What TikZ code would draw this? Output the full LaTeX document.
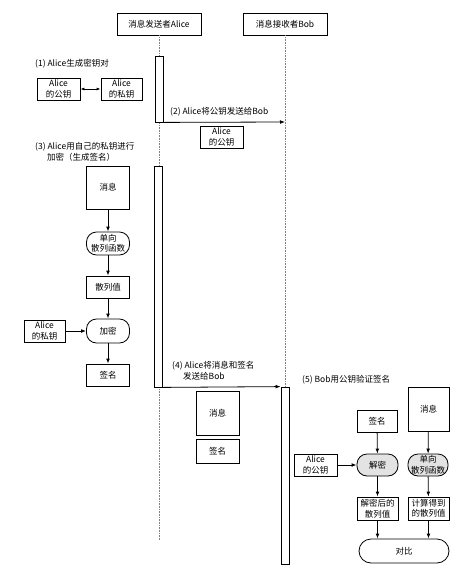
\documentclass[tikz,border=0pt]{standalone}
\usepackage{fontspec}
\setmainfont{Noto Sans CJK SC}
\usetikzlibrary{positioning, arrows.meta}
\tikzset{
  block/.style={
    draw,
    rectangle,
    line width=0.8pt,
    minimum width=43pt,
    minimum height=22pt,
    inner sep=1pt,
    align=center,
    font=\fontsize{8.5}{10.5}\selectfont
  },
  func/.style={block, rounded corners=10pt},
  shaded/.style={fill=gray!22},
  actbar/.style={draw, line width=0.8pt, fill=white, minimum width=8pt, inner sep=0pt},
  life/.style={densely dotted, gray, line width=0.6pt},
  msg/.style={-{Latex[length=5pt]}, line width=0.8pt},
  note/.style={anchor=west, align=left, inner sep=0pt, font=\fontsize{8.5}{11}\selectfont}
}
\begin{document}
\begin{tikzpicture}[x=1pt, y=-1pt]
    \useasboundingbox (0,0) rectangle (474,571);
    % lifelines
    \node[block, minimum width=84pt] (alice) at (159,24) {消息发送者Alice};
    \node[block, minimum width=84pt] (bob) at (285,24) {消息接收者Bob};
    \coordinate (aend) at (159,540);
    \coordinate (bend) at (285,387);
    \draw[life] (alice) -- (aend);
    \draw[life] (bob) -- (bend);
    \node[actbar, minimum height=66pt] (act1) at (159,89) {};
    \node[actbar, minimum height=221pt] (act2) at (158.5,276.5) {};
    \node[actbar, minimum height=177pt] (act3) at (285,475.5) {};

    % (1) key pair
    \node[note] (n1) at (35,64) {(1) Alice生成密钥对};
    \node[block] (pub1) at (58.5,89) {Alice\\的公钥};
    \node[block, minimum width=41pt] (priv1) at (121.5,89) {Alice\\的私钥};
    \draw[{Latex[length=4pt]}-{Latex[length=4pt]}, line width=0.8pt] (pub1) -- (priv1);

    % (2) send public key
    \coordinate (b2) at (285,122);
    \node[note] (n2) at (170,112) {(2) Alice将公钥发送给Bob};
    \draw[msg] (act1.south east) -- (b2);
    \node[block] (pub2) at (221.5,137) {Alice\\的公钥};

    % (3) sign
    \node[note] (n3) at (35,152) {(3) Alice用自己的私钥进行\\\hspace{12pt}加密（生成签名）};
    \node[block, minimum height=43pt] (msg1) at (108,187.5) {消息};
    \node[func, minimum height=23pt] (hash1) at (108,243.5) {单向\\散列函数};
    \node[block] (val1) at (108,287) {散列值};
    \node[func, minimum height=24pt] (enc1) at (108,331) {加密};
    \node[block, minimum width=41pt] (priv2) at (44.5,331) {Alice\\的私钥};
    \node[block] (sig1) at (108,375) {签名};
    \draw[msg] (msg1) -- (hash1);
    \draw[msg] (hash1) -- (val1);
    \draw[msg] (val1) -- (enc1);
    \draw[msg] (priv2) -- (enc1);
    \draw[msg] (enc1) -- (sig1);

    % (4) send message and signature
    \node[note] (n4) at (172,370.5) {(4) Alice将消息和签名\\\hspace{11pt}发送给Bob};
    \draw[msg] (act2.south east) -- (act3.north west);
    \node[block, minimum height=44pt] (msg2) at (217.5,413) {消息};
    \node[block, minimum height=24pt] (sig2) at (217.5,451) {签名};

    % (5) verify
    \node[note] (n5) at (302,380) {(5) Bob用公钥验证签名};
    \node[block, minimum width=40pt] (sig3) at (377,421) {签名};
    \node[block, minimum width=41pt, minimum height=44pt] (msg3) at (428.5,409) {消息};
    \node[block] (pub3) at (315.5,465) {Alice\\的公钥};
    \node[func, shaded, minimum width=41pt] (dec3) at (377.5,465) {解密};
    \node[func, shaded, minimum width=40pt] (hash3) at (428,465) {单向\\散列函数};
    \node[block, minimum width=41pt, minimum height=23pt] (dval) at (377.5,508.5) {解密后的\\散列值};
    \node[block, minimum width=41pt, minimum height=23pt] (cval) at (428.5,508.5) {计算得到\\的散列值};
    \node[func, minimum width=90pt, minimum height=24pt, rounded corners=12pt] (cmp) at (404,551) {对比};
    \draw[msg] (sig3) -- (dec3);
    \draw[msg] (pub3) -- (dec3);
    \draw[msg] (dec3) -- (dval);
    \draw[msg] (msg3) -- (hash3);
    \draw[msg] (hash3) -- (cval);
    \draw[msg] (dval) -- (dval |- cmp.north);
    \draw[msg] (cval) -- (cval |- cmp.north);
\end{tikzpicture}
\end{document}
